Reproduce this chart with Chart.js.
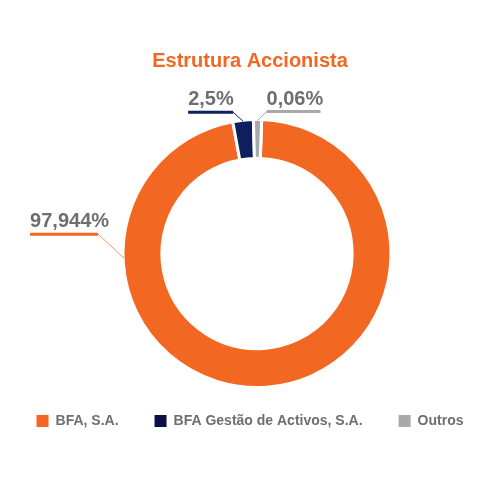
<!DOCTYPE html>
<html>
<head>
<meta charset="utf-8">
<script src="https://cdn.jsdelivr.net/npm/chart.js@4.4.1/dist/chart.umd.min.js"></script>
<style>
  html, body { margin: 0; padding: 0; background: #fff; }
  #wrap { width: 500px; height: 500px; position: relative; }
</style>
</head>
<body>
<div id="wrap"><canvas id="chart"></canvas></div>
<script>
const TITLE = "Estrutura Accionista";
const LABELS = ["BFA, S.A.", "BFA Gestão de Activos, S.A.", "Outros"];
const SHARE_TEXT = ["97,944%", "2,5%", "0,06%"];
// slice sizes as drawn in the picture (the 0,06% slice is drawn wider than its share)
const SLICE_VALUES = [97.944, 2.5, 1.0];
const COLORS = ["#f26722", "#0d1f5f", "#a7a9ac"];
const LEGEND_COLORS = ["#f26722", "#0b1148", "#a7a9ac"];

const FONT = "'Liberation Sans', Arial, sans-serif";
const TEXT_GREY = "#6d6e71";

// --- callout labels: anchor on the ring, elbow offset, underline ---
// anchor: "mid" or degrees clockwise from 12 o'clock
const CALLOUTS = [
  { anchor: 268, dx: -26, dy: -24, len: 68, dir: -1, thin: "#f6955f" },
  { anchor: "mid", dx: -10, dy: -9, len: 45, dir: -1, thin: "#0d1f5f" },
  { anchor: "mid", dx: 9, dy: -9, len: 54, dir: 1, thin: "#a7a9ac" },
];

const calloutPlugin = {
  id: "callouts",
  afterLayout(chart) {
    // shift the ring a little right of the title/legend centre, and let it
    // reach closer to the legend
    chart.chartArea.left += 14;
    chart.chartArea.bottom += 11;
    chart.chartArea.width = chart.chartArea.right - chart.chartArea.left;
    chart.chartArea.height = chart.chartArea.bottom - chart.chartArea.top;
  },
  afterDatasetsDraw(chart) {
    const ctx = chart.ctx;
    const arcs = chart.getDatasetMeta(0).data;
    ctx.save();
    arcs.forEach((arc, i) => {
      const c = CALLOUTS[i];
      const { x, y, startAngle, endAngle, outerRadius } = arc.getProps(
        ["x", "y", "startAngle", "endAngle", "outerRadius"], true);
      const a = c.anchor === "mid"
        ? (startAngle + endAngle) / 2
        : (c.anchor * Math.PI) / 180 - Math.PI / 2;
      const ax = x + Math.cos(a) * (outerRadius - 1);
      const ay = y + Math.sin(a) * (outerRadius - 1);
      const ex = ax + c.dx;
      const ey = ay + c.dy;
      const fx = ex + c.dir * c.len;

      ctx.strokeStyle = c.thin;
      ctx.lineWidth = 1;
      ctx.beginPath();
      ctx.moveTo(ax, ay);
      ctx.lineTo(ex, ey);
      ctx.stroke();

      ctx.strokeStyle = COLORS[i];
      ctx.lineWidth = 3;
      ctx.beginPath();
      ctx.moveTo(ex, ey);
      ctx.lineTo(fx, ey);
      ctx.stroke();

      ctx.fillStyle = TEXT_GREY;
      ctx.font = "bold 20px " + FONT;
      ctx.textAlign = "left";
      ctx.textBaseline = "alphabetic";
      ctx.fillText(SHARE_TEXT[i], Math.min(ex, fx), ey - 7);
    });
    ctx.restore();
  },
};

new Chart(document.getElementById("chart"), {
  type: "doughnut",
  data: {
    labels: LABELS,
    datasets: [
      {
        data: SLICE_VALUES,
        backgroundColor: COLORS,
        borderColor: "#ffffff",
        borderWidth: 3,
      },
    ],
  },
  options: {
    responsive: true,
    maintainAspectRatio: false,
    animation: false,
    events: [],
    cutout: "71%",
    rotation: 2,
    layout: { padding: { bottom: 62 } },
    plugins: {
      tooltip: { enabled: false },
      title: {
        display: true,
        text: TITLE,
        color: "#f26722",
        font: { family: FONT, size: 20, weight: "bold" },
        padding: { top: 49, bottom: 45 },
      },
      legend: {
        position: "bottom",
        labels: {
          boxWidth: 12,
          boxHeight: 12,
          padding: 36,
          color: TEXT_GREY,
          font: { family: FONT, size: 14, weight: "bold" },
          generateLabels(chart) {
            const items = Chart.overrides.doughnut.plugins.legend.labels.generateLabels(chart);
            items.forEach((it, i) => {
              it.fillStyle = LEGEND_COLORS[i];
              it.strokeStyle = LEGEND_COLORS[i];
              it.lineWidth = 0;
            });
            return items;
          },
        },
      },
    },
  },
  plugins: [calloutPlugin],
});
</script>
</body>
</html>
